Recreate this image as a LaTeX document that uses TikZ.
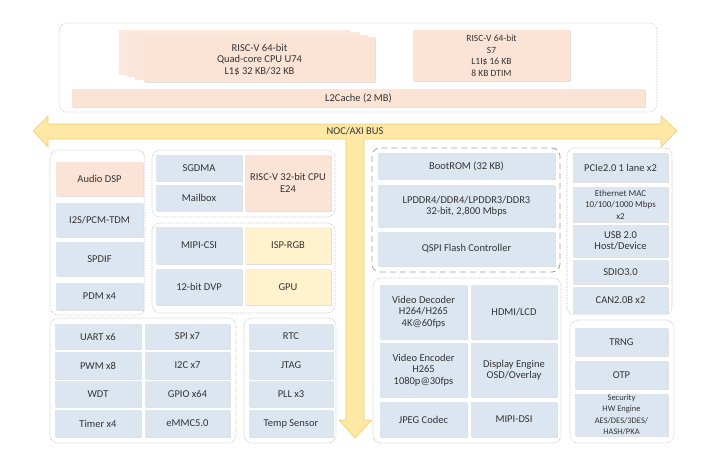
\documentclass[tikz,border=0pt]{standalone}
\usepackage{fontspec}
\setmainfont{Carlito}
\begin{document}
\begin{tikzpicture}[x=1pt,y=-1pt,
  grp/.style={draw=gray!55,densely dotted,rounded corners=8pt,line width=0.6pt},
  bl/.style={fill=blueF},or/.style={fill=orF},ye/.style={fill=yeF},
  txt/.style={font=\fontsize{10.5}{11.5}\selectfont,text=black!80,align=center}]
\definecolor{blueF}{HTML}{DCE6F1}
\definecolor{orF}{HTML}{FBE3D6}
\definecolor{yeF}{HTML}{FFF2CC}
\definecolor{busF}{HTML}{FDE8A6}
\definecolor{busD}{HTML}{F3CD6A}
\newcommand\blk[7]{%
  \fill[black!12] (#2+1.2,#3+1.2) rectangle (#4+1.2,#5+1.2);
  \path[#6] (#2,#3) rectangle (#4,#5);
  \node[txt] (#1) at ({(#2+#4)/2},{(#3+#5)/2}) {#7};}
\useasboundingbox (0,0) rectangle (711,468);
\fill[white] (0,0) rectangle (711,468);
% top
\draw[grp] (59,23) rectangle (657,112);
\fill[orF!85] (119,30) rectangle (350,75);
\fill[orF!90] (127,32.5) rectangle (360,77.5);
\fill[orF!95] (135,35) rectangle (368,80);
\blk{u74}{144}{37}{375}{82}{or}{RISC-V 64-bit\\Quad-core CPU U74\\L1\$ 32 KB/32 KB}
\blk{s7}{413}{30}{570}{81}{or}{\fontsize{9.5}{10.5}\selectfont RISC-V 64-bit\\\fontsize{9.5}{10.5}\selectfont S7\\\fontsize{9.5}{10.5}\selectfont L1I\$ 16 KB\\\fontsize{9.5}{10.5}\selectfont 8 KB DTIM}
\blk{l2}{72}{89}{645}{107}{or}{L2Cache (2 MB)}
% bus
\draw[busD,fill=busF,line width=0.6pt] (33,131)--(48,116)--(48,124)--(661,124)--(661,116)--(677,131)--(661,147)--(661,139)--(364,139)--(364,420)--(372,420)--(355,438)--(339,420)--(346,420)--(346,139)--(48,139)--(48,147)--cycle;
\node[txt] (bus) at (355,131.5) {NOC/AXI BUS};
% left column
\draw[grp] (50,150) rectangle (145,315);
\blk{dsp}{56}{162}{143}{196}{or}{Audio DSP}
\blk{i2s}{56}{203}{143}{237}{bl}{I2S/PCM-TDM}
\blk{spdif}{56}{242}{143}{276}{bl}{SPDIF}
\blk{pdm}{56}{283}{143}{310}{bl}{PDM x4}
% group2
\draw[grp] (152,150) rectangle (335,217);
\blk{sgdma}{156}{155}{242}{181}{bl}{SGDMA}
\blk{mail}{156}{185}{242}{211}{bl}{Mailbox}
\blk{e24}{245}{155}{331}{211}{or}{RISC-V 32-bit CPU\\E24}
% group3
\draw[grp] (152,223) rectangle (335,313);
\blk{csi}{156}{227}{242}{264}{bl}{MIPI-CSI}
\blk{dvp}{156}{269}{242}{305}{bl}{12-bit DVP}
\blk{isp}{245}{227}{331}{264}{ye}{ISP-RGB}
\blk{gpu}{245}{269}{331}{305}{ye}{GPU}
% bottom left
\draw[grp] (50,318) rectangle (236,443);
\blk{uart}{55}{324}{141}{349}{bl}{UART x6}
\blk{spi}{145}{324}{230}{349}{bl}{SPI x7}
\blk{pwm}{55}{352}{141}{379}{bl}{PWM x8}
\blk{i2c}{145}{352}{230}{379}{bl}{I2C x7}
\blk{wdt}{55}{381}{141}{407}{bl}{WDT}
\blk{gpio}{145}{381}{230}{407}{bl}{GPIO x64}
\blk{tim}{55}{410}{141}{437}{bl}{Timer x4}
\blk{emmc}{145}{410}{230}{437}{bl}{eMMC5.0}
\draw[grp] (244,318) rectangle (336,443);
\blk{rtc}{249}{324}{333}{349}{bl}{RTC}
\blk{jtag}{249}{352}{333}{379}{bl}{JTAG}
\blk{pll}{249}{381}{333}{407}{bl}{PLL x3}
\blk{temp}{249}{410}{333}{437}{bl}{Temp Sensor}
% memory
\draw[gray!75,dashed,dash pattern=on 6pt off 4pt,rounded corners=8pt,line width=0.8pt] (372,148) rectangle (560,272);
\blk{boot}{378}{153}{555}{179}{bl}{BootROM (32 KB)}
\blk{ddr}{378}{185}{555}{227}{bl}{LPDDR4/DDR4/LPDDR3/DDR3\\32-bit, 2,800 Mbps}
\blk{qspi}{378}{232}{555}{266}{bl}{QSPI Flash Controller}
% right
\draw[grp] (567,148) rectangle (672,315);
\blk{pcie}{573}{153}{668}{182}{bl}{PCIe2.0 1 lane x2}
\blk{eth}{573}{187}{668}{222}{bl}{\fontsize{9}{10}\selectfont Ethernet MAC\\\fontsize{9}{10}\selectfont 10/100/1000 Mbps\\\fontsize{9}{10}\selectfont x2}
\blk{usb}{573}{225}{668}{257}{bl}{USB 2.0\\Host/Device}
\blk{sdio}{573}{260}{668}{284}{bl}{SDIO3.0}
\blk{can}{573}{287}{668}{313}{bl}{CAN2.0B x2}
% video
\draw[grp] (373,278) rectangle (561,443);
\blk{vdec}{380}{285}{467}{339}{bl}{Video Decoder\\H264/H265\\4K@60fps}
\blk{hdmi}{471}{285}{557}{339}{bl}{HDMI/LCD}
\blk{venc}{380}{343}{467}{397}{bl}{Video Encoder\\H265\\1080p@30fps}
\blk{disp}{471}{343}{557}{397}{bl}{Display Engine\\OSD/Overlay}
\blk{jpeg}{380}{402}{467}{437}{bl}{JPEG Codec}
\blk{dsi}{471}{402}{557}{437}{bl}{MIPI-DSI}
% security
\draw[grp] (570,320) rectangle (674,443);
\blk{trng}{575}{328}{668}{356}{bl}{TRNG}
\blk{otp}{575}{361}{668}{389}{bl}{OTP}
\blk{sec}{575}{394}{668}{436}{bl}{\fontsize{8.5}{9}\selectfont Security\\\fontsize{8.5}{9}\selectfont HW Engine\\\fontsize{8.5}{9}\selectfont AES/DES/3DES/\\\fontsize{8.5}{9}\selectfont HASH/PKA}
\end{tikzpicture}
\end{document}
